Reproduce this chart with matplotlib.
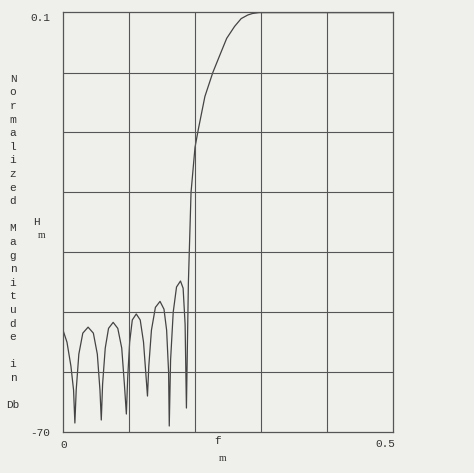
import matplotlib
matplotlib.use("Agg")
import matplotlib.pyplot as plt

freq = [0, 0.006, 0.012, 0.016, 0.018,
        0.020, 0.024, 0.030, 0.038, 0.046, 0.052, 0.056, 0.058,
        0.060, 0.064, 0.069, 0.076, 0.083, 0.089, 0.093, 0.096,
        0.098, 0.101, 0.105, 0.111, 0.117, 0.122, 0.126, 0.128,
        0.130, 0.134, 0.140, 0.147, 0.153, 0.157, 0.160, 0.161,
        0.163, 0.167, 0.172, 0.178, 0.182, 0.185, 0.187,
        0.190, 0.194, 0.200, 0.205, 0.215, 0.227, 0.238, 0.248, 0.260, 0.270, 0.280, 0.287, 0.297, 0.500]
mag_db = [-53, -55, -59, -63, -68.5,
          -63, -57, -53.5, -52.5, -53.5, -57, -63, -68,
          -62, -56, -52.7, -51.7, -52.7, -56, -62, -67,
          -61, -55, -51.3, -50.3, -51.3, -55, -61, -64,
          -59, -53, -49.2, -48.2, -49.5, -53, -60, -69,
          -58, -50, -45.8, -44.8, -46, -52, -66,
          -45, -30, -22.5, -19.5, -14, -10, -7, -4.3, -2.3, -1, -0.4, -0.15, 0, 0]

bg = "#efefeb"
fig = plt.figure(figsize=(4.74, 4.73), dpi=100, facecolor=bg)
ax = fig.add_axes([63/474, 1-432/473, (393-63)/474, (432-12)/473])
ax.set_facecolor(bg)
ax.plot(freq, mag_db, color="#444444", lw=0.9)
ax.set_xlim(0, 0.5)
ax.set_ylim(-70, 0.1)
for v in [0.1, 0.2, 0.3, 0.4]:
    ax.axvline(v, color="#555555", lw=0.8)
for v in range(-60, 0, 10):
    ax.axhline(v, color="#555555", lw=0.8)
ax.set_xticks([]); ax.set_yticks([])
for s in ax.spines.values():
    s.set_color("#555555"); s.set_linewidth(0.9)

mono = "Liberation Mono"
kw = dict(family=mono, fontsize=8, color="#333333")
fig.text(40/474, 1-18/473, "0.1", ha="center", va="center", **kw)
fig.text(40/474, 1-433/473, "-70", ha="center", va="center", **kw)
fig.text(64/474, 1-445/473, "0", ha="center", va="center", **kw)
fig.text(385/474, 1-444/473, "0.5", ha="center", va="center", **kw)
fig.text(218/474, 1-441/473, "f", ha="center", va="center", **kw)
fig.text(223/474, 1-458/473, "m", ha="center", va="center", family="Liberation Serif", fontsize=7, color="#333333")
fig.text(36/474, 1-222/473, "H", ha="center", va="center", **kw)
fig.text(42/474, 1-235/473, "m", ha="center", va="center", family="Liberation Serif", fontsize=7, color="#333333")
label = "\n".join(list("Normalized") + [""] + list("Magnitude") + [""] + list("in") + [""] + ["Db"])
fig.text(13/474, 1-242/473, label, ha="center", va="center", linespacing=1.45, **kw)
fig.savefig("out.png", dpi=100, facecolor=bg)
